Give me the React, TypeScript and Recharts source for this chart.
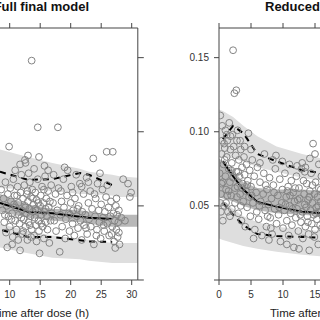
import { ComposedChart, Area, Line, Scatter, XAxis, YAxis } from "recharts";

// observed data: [time after dose (h), concentration]
const fullObs: [number, number][] = [
  [8.6, 0.061], [8.8, 0.047], [9.0, 0.055], [9.1, 0.039], [9.3, 0.066], [9.4, 0.032], [9.5, 0.05], [9.7, 0.058],
  [9.8, 0.043], [10.0, 0.036], [10.1, 0.062], [10.2, 0.053], [10.4, 0.045], [10.5, 0.029], [10.6, 0.068], [10.8, 0.057],
  [10.9, 0.04], [11.0, 0.049], [11.1, 0.034], [11.3, 0.063], [11.4, 0.052], [11.5, 0.044], [11.6, 0.038], [11.7, 0.02],
  [11.8, 0.059], [11.9, 0.071], [12.0, 0.047], [12.1, 0.031], [12.2, 0.055], [12.3, 0.041], [12.4, 0.064], [12.5, 0.05],
  [12.6, 0.036], [12.7, 0.045], [12.8, 0.058], [12.9, 0.027], [13.0, 0.053], [13.1, 0.039], [13.2, 0.048], [13.3, 0.066],
  [13.4, 0.043], [13.5, 0.056], [13.6, 0.034], [13.7, 0.061], [13.8, 0.046], [13.9, 0.051], [14.0, 0.03], [14.1, 0.042],
  [14.2, 0.059], [14.3, 0.037], [14.4, 0.054], [14.5, 0.047], [14.6, 0.068], [14.7, 0.04], [14.8, 0.033], [14.9, 0.018],
  [15.0, 0.05], [15.1, 0.057], [15.2, 0.044], [15.3, 0.063], [15.4, 0.036], [15.5, 0.052], [15.6, 0.028], [15.7, 0.046],
  [15.8, 0.07], [15.9, 0.039], [16.0, 0.055], [16.1, 0.043], [16.2, 0.034], [16.3, 0.06], [16.4, 0.049], [16.5, 0.025],
  [16.6, 0.053], [16.7, 0.04], [16.8, 0.064], [16.9, 0.045], [9.2, 0.044], [10.3, 0.041], [10.7, 0.051], [11.2, 0.057],
  [11.9, 0.042], [12.6, 0.049], [13.3, 0.037], [13.8, 0.055], [14.2, 0.048], [14.7, 0.052], [15.2, 0.038], [15.9, 0.048],
  [12.2, 0.033], [13.5, 0.029], [11.4, 0.027], [14.4, 0.026], [10.4, 0.024], [9.6, 0.022], [12.9, 0.06], [15.6, 0.061],
  [13.1, 0.072], [14.0, 0.075], [11.7, 0.078], [10.9, 0.074], [12.5, 0.081], [9.9, 0.09], [13.6, 0.148], [14.6, 0.103],
  [14.8, 0.083], [13.0, 0.084], [12.6, 0.079], [15.7, 0.077], [16.3, 0.074], [17.2, 0.071],
  [17.1, 0.052], [17.3, 0.04], [17.5, 0.058], [17.6, 0.033], [17.8, 0.047], [17.9, 0.103], [18.0, 0.062], [18.2, 0.019],
  [18.3, 0.044], [18.5, 0.053], [18.6, 0.036], [18.8, 0.068], [18.9, 0.049], [19.1, 0.028], [19.2, 0.041], [19.4, 0.057],
  [19.5, 0.074], [19.7, 0.045], [19.8, 0.033], [20.0, 0.052], [20.1, 0.063], [20.3, 0.038], [20.4, 0.047], [20.6, 0.03],
  [20.7, 0.055], [20.9, 0.071], [21.0, 0.043], [21.2, 0.035], [21.3, 0.05], [21.5, 0.065], [21.6, 0.04], [21.8, 0.027],
  [21.9, 0.046], [22.1, 0.058], [22.2, 0.037], [22.4, 0.044], [22.6, 0.069], [22.7, 0.031], [22.9, 0.052], [23.0, 0.041],
  [23.2, 0.06], [23.3, 0.036], [23.5, 0.048], [23.7, 0.082], [23.8, 0.024], [24.0, 0.043], [24.1, 0.055], [24.3, 0.034],
  [24.4, 0.065], [24.6, 0.047], [24.7, 0.039], [24.9, 0.028], [25.0, 0.051], [25.2, 0.061], [25.3, 0.042], [25.5, 0.033],
  [25.6, 0.046], [25.8, 0.056], [25.9, 0.0865], [26.0, 0.038], [26.2, 0.049], [26.3, 0.03], [26.5, 0.043], [26.6, 0.053],
  [26.8, 0.036], [26.9, 0.0865], [27.0, 0.045], [27.1, 0.026], [27.2, 0.04], [27.3, 0.0216], [27.4, 0.05], [27.5, 0.034],
  [27.6, 0.044], [27.7, 0.029], [27.8, 0.039], [27.9, 0.047], [28.0, 0.024], [28.3, 0.042], [28.6, 0.068], [28.9, 0.04],
  [29.4, 0.065], [29.9, 0.059], [29.7, 0.056], [20.3, 0.059], [22.9, 0.066], [19.0, 0.076], [24.8, 0.072], [21.8, 0.063],
  [26.0, 0.064], [18.4, 0.06], [23.9, 0.058], [19.9, 0.044], [21.1, 0.048], [22.5, 0.035], [25.4, 0.037], [26.7, 0.031],
  [27.5, 0.055], [24.2, 0.03], [27.9, 0.032],
];

const reducedObs: [number, number][] = [
  [0.1, 0.072], [0.2, 0.111], [0.3, 0.058], [0.4, 0.085], [0.5, 0.094], [0.6, 0.066], [0.7, 0.078], [0.8, 0.05],
  [0.9, 0.089], [1.0, 0.101], [1.0, 0.07], [1.1, 0.061], [1.2, 0.083], [1.3, 0.094], [1.4, 0.046], [1.5, 0.075],
  [1.6, 0.106], [1.7, 0.066], [1.8, 0.088], [1.9, 0.057], [2.0, 0.079], [2.1, 0.098], [2.2, 0.155], [2.2, 0.069],
  [2.3, 0.09], [2.4, 0.126], [2.5, 0.052], [2.6, 0.084], [2.7, 0.128], [2.7, 0.073], [2.8, 0.094], [2.9, 0.063],
  [3.0, 0.045], [3.1, 0.081], [3.2, 0.07], [3.3, 0.058], [3.4, 0.088], [3.5, 0.04], [3.6, 0.076], [3.7, 0.065],
  [3.8, 0.053], [3.9, 0.083], [4.0, 0.071], [4.1, 0.036], [4.2, 0.06], [4.3, 0.078], [4.4, 0.049], [4.5, 0.067],
  [4.6, 0.099], [4.7, 0.056], [4.8, 0.074], [4.9, 0.043], [5.0, 0.063], [5.2, 0.081], [5.3, 0.052], [5.5, 0.07],
  [5.6, 0.034], [5.8, 0.059], [5.9, 0.046], [6.0, 0.076], [0.3, 0.046], [0.6, 0.04], [1.1, 0.052], [1.7, 0.043],
  [2.0, 0.048], [0.4, 0.065], [1.5, 0.06], [2.5, 0.062], [3.4, 0.05], [0.9, 0.081], [1.9, 0.074], [3.0, 0.073],
  [0.2, 0.052], [1.3, 0.057], [2.8, 0.056], [0.5, 0.104], [1.2, 0.098], [1.8, 0.097], [0.8, 0.092], [3.3, 0.094],
  [2.9, 0.101], [4.0, 0.09], [5.0, 0.088], [6.4, 0.079], [7.1, 0.085], [8.4, 0.081],
  [6.2, 0.041], [6.4, 0.066], [6.5, 0.053], [6.7, 0.03], [6.9, 0.058], [7.0, 0.072], [7.2, 0.047], [7.4, 0.036],
  [7.5, 0.061], [7.7, 0.051], [7.9, 0.069], [8.0, 0.042], [8.2, 0.055], [8.3, 0.031], [8.5, 0.064], [8.7, 0.048],
  [8.8, 0.075], [9.0, 0.038], [9.2, 0.057], [9.3, 0.044], [9.5, 0.068], [9.6, 0.026], [9.8, 0.052], [9.9, 0.061],
  [10.0, 0.035], [10.2, 0.047], [10.3, 0.072], [10.5, 0.056], [10.6, 0.04], [10.8, 0.063], [10.9, 0.03], [11.0, 0.05],
  [11.2, 0.045], [11.3, 0.067], [11.4, 0.037], [11.6, 0.059], [11.7, 0.022], [11.8, 0.053], [12.0, 0.042], [12.1, 0.07],
  [12.2, 0.048], [12.4, 0.033], [12.5, 0.062], [12.6, 0.055], [12.8, 0.039], [12.9, 0.075], [13.0, 0.046], [13.1, 0.028],
  [13.3, 0.058], [13.4, 0.051], [13.5, 0.036], [13.7, 0.065], [13.8, 0.043], [13.9, 0.054], [14.0, 0.031], [14.2, 0.06],
  [14.3, 0.047], [14.4, 0.072], [14.5, 0.038], [14.6, 0.052], [14.7, 0.092], [14.8, 0.044], [14.9, 0.058], [15.0, 0.085],
  [15.0, 0.034], [15.1, 0.066], [15.2, 0.049], [15.3, 0.041], [15.4, 0.056], [15.5, 0.024], [15.6, 0.062], [15.7, 0.046],
  [15.8, 0.037], [15.9, 0.053], [16.0, 0.07], [16.2, 0.043], [16.4, 0.059], [10.4, 0.051], [11.1, 0.057], [11.9, 0.062],
  [12.7, 0.044], [13.2, 0.067], [13.6, 0.049], [14.1, 0.056], [14.6, 0.064], [15.1, 0.045], [15.5, 0.05], [15.9, 0.061],
  [12.3, 0.054], [13.9, 0.039], [14.9, 0.029], [11.5, 0.048], [10.7, 0.06], [9.4, 0.049], [8.6, 0.059], [7.6, 0.043],
  [6.3, 0.05], [5.1, 0.057], [4.4, 0.064], [3.6, 0.062], [7.3, 0.064], [8.1, 0.035], [16.1, 0.035], [16.3, 0.08],
  [15.6, 0.078], [14.2, 0.082], [13.4, 0.073], [12.2, 0.077], [7.8, 0.027], [5.4, 0.028], [10.6, 0.024], [12.5, 0.021],
  [14.1, 0.02], [9.9, 0.08], [13.0, 0.079], [13.5, 0.076], [11.0, 0.078], [8.9, 0.084],
];

// VPC summary lines and simulated confidence bands, full model
const fullTimes = [0, 1, 3, 5.5, 8.4, 13, 17, 21.5, 23, 26.8, 28, 31];
const fullMedian = [null, 0.08, 0.068, 0.058, 0.052, 0.046, 0.045, 0.0426, 0.042, 0.0412, null, null];
const fullP95 = [null, 0.105, 0.095, 0.082, 0.073, 0.0676, 0.068, 0.0722, 0.071, 0.064, null, null];
const fullP05 = [null, 0.05, 0.042, 0.036, 0.034, 0.029, 0.029, 0.0268, 0.026, 0.0257, null, null];
const fullUpLo = [0.085, 0.08, 0.074, 0.067, 0.062, 0.061, 0.06, 0.058, 0.058, 0.057, 0.056, 0.056];
const fullUpHi = [0.12, 0.113, 0.104, 0.094, 0.088, 0.083, 0.079, 0.075, 0.073, 0.071, 0.07, 0.069];
const fullMidLo = [0.068, 0.064, 0.058, 0.051, 0.046, 0.042, 0.04, 0.039, 0.038, 0.036, 0.036, 0.036];
const fullMidHi = [0.09, 0.085, 0.076, 0.066, 0.058, 0.051, 0.048, 0.047, 0.046, 0.044, 0.044, 0.044];
const fullLowLo = [0.04, 0.036, 0.031, 0.026, 0.022, 0.018, 0.015, 0.014, 0.013, 0.0115, 0.0115, 0.0115];
const fullLowHi = [0.06, 0.056, 0.05, 0.043, 0.038, 0.033, 0.03, 0.028, 0.027, 0.025, 0.025, 0.025];

// reduced model
const redTimes = [0, 0.6, 2.2, 3.8, 6, 9, 13, 16, 20, 24, 27, 30];
const redMedian = [null, 0.08, 0.07, 0.061, 0.0527, 0.0495, 0.046, 0.0452, 0.044, 0.043, 0.042, null];
const redP95 = [null, 0.095, 0.104, 0.099, 0.085, 0.08, 0.074, 0.0722, 0.071, 0.069, 0.066, null];
const redP05 = [null, 0.052, 0.044, 0.037, 0.031, 0.0297, 0.029, 0.0284, 0.027, 0.026, 0.026, null];
const redUpLo = [0.083, 0.083, 0.082, 0.08, 0.076, 0.073, 0.069, 0.067, 0.065, 0.064, 0.063, 0.063];
const redUpHi = [0.115, 0.114, 0.11, 0.104, 0.097, 0.09, 0.085, 0.082, 0.08, 0.078, 0.077, 0.076];
const redMidLo = [0.056, 0.055, 0.053, 0.05, 0.047, 0.045, 0.044, 0.043, 0.042, 0.041, 0.04, 0.04];
const redMidHi = [0.082, 0.08, 0.074, 0.066, 0.062, 0.061, 0.061, 0.06, 0.058, 0.057, 0.056, 0.056];
const redLowLo = [0.028, 0.027, 0.025, 0.023, 0.021, 0.019, 0.017, 0.016, 0.015, 0.014, 0.014, 0.014];
const redLowHi = [0.055, 0.053, 0.048, 0.043, 0.039, 0.036, 0.034, 0.033, 0.032, 0.031, 0.031, 0.031];

const xTicks = [0, 5, 10, 15, 20, 25, 30];
const yTicks = [0, 0.05, 0.1, 0.15];

const font = "'Liberation Sans', Arial, sans-serif";
const axisColor = "#444";
const tickStyle = { fontSize: 10, fill: "#333", fontFamily: font };

const makeRows = (
  times: number[],
  med: (number | null)[],
  p95: (number | null)[],
  p05: (number | null)[],
  upLo: number[],
  upHi: number[],
  midLo: number[],
  midHi: number[],
  lowLo: number[],
  lowHi: number[]
) =>
  times.map((t, i) => ({
    t,
    med: med[i],
    p95: p95[i],
    p05: p05[i],
    up: [upLo[i], upHi[i]],
    mid: [midLo[i], midHi[i]],
    low: [lowLo[i], lowHi[i]],
  }));

const fullRows = makeRows(fullTimes, fullMedian, fullP95, fullP05, fullUpLo, fullUpHi, fullMidLo, fullMidHi, fullLowLo, fullLowHi);
const redRows = makeRows(redTimes, redMedian, redP95, redP05, redUpLo, redUpHi, redMidLo, redMidHi, redLowLo, redLowHi);

const Circle = (p: any) => (
  <circle cx={p.cx} cy={p.cy} r={3.4} fill="none" stroke="#848484" strokeWidth={1} />
);

interface PanelProps {
  left: number;
  yAxisWidth: number;
  plotWidth: number;
  domain: [number, number];
  rows: ReturnType<typeof makeRows>;
  obs: [number, number][];
}

const Panel = ({ left, yAxisWidth, plotWidth, domain, rows, obs }: PanelProps) => {
  const points = obs.map(([t, c]) => ({ t, c }));
  const width = yAxisWidth + plotWidth + 30;
  return (
    <div style={{ position: "absolute", left, top: 0 }}>
      <ComposedChart width={width} height={320} data={rows} margin={{ top: 0, right: 0, bottom: 0, left: 0 }}>
        <XAxis
          xAxisId="b"
          dataKey="t"
          type="number"
          domain={domain}
          ticks={xTicks}
          allowDataOverflow
          height={40}
          tickSize={5}
          tickMargin={5.6}
          interval={0}
          tick={tickStyle}
          stroke={axisColor}
        />
        <XAxis
          xAxisId="t"
          orientation="top"
          dataKey="t"
          type="number"
          domain={domain}
          ticks={xTicks}
          allowDataOverflow
          height={28}
          tickSize={5}
          interval={0}
          tickFormatter={() => ""}
          stroke={axisColor}
        />
        <YAxis
          yAxisId="l"
          type="number"
          domain={[0, 0.17]}
          ticks={yTicks}
          allowDataOverflow
          width={yAxisWidth}
          tickSize={5}
          tickMargin={5}
          interval={0}
          tick={tickStyle}
          tickFormatter={(v: number) => (v === 0 ? "" : v.toFixed(2))}
          stroke={axisColor}
        />
        <YAxis
          yAxisId="r"
          orientation="right"
          type="number"
          domain={[0, 0.17]}
          ticks={yTicks}
          allowDataOverflow
          width={30}
          tickSize={6}
          interval={0}
          tickFormatter={() => ""}
          stroke={axisColor}
        />
        <Area xAxisId="b" yAxisId="l" dataKey="up" stroke="none" fill="#dedede" fillOpacity={1} isAnimationActive={false} />
        <Area xAxisId="b" yAxisId="l" dataKey="low" stroke="none" fill="#dedede" fillOpacity={1} isAnimationActive={false} />
        <Area xAxisId="b" yAxisId="l" dataKey="mid" stroke="none" fill="#b8b8b8" fillOpacity={1} isAnimationActive={false} />
        <Scatter xAxisId="b" yAxisId="l" data={points} dataKey="c" shape={Circle} isAnimationActive={false} />
        <Line xAxisId="b" yAxisId="l" dataKey="med" stroke="#000" strokeWidth={2} dot={false} connectNulls isAnimationActive={false} />
        <Line xAxisId="b" yAxisId="l" dataKey="p95" stroke="#000" strokeWidth={2} strokeDasharray="6 5" dot={false} connectNulls isAnimationActive={false} />
        <Line xAxisId="b" yAxisId="l" dataKey="p05" stroke="#000" strokeWidth={2} strokeDasharray="6 5" dot={false} connectNulls isAnimationActive={false} />
      </ComposedChart>
    </div>
  );
};

export default function App() {
  return (
    <div style={{ position: "fixed", left: 0, top: 0, width: 320, height: 320, overflow: "hidden", background: "#fff" }}>
      <Panel left={-130} yAxisWidth={72.6} plotWidth={195.2} domain={[-1, 31]} rows={fullRows} obs={fullObs} />
      <Panel left={158.7} yAxisWidth={60} plotWidth={192} domain={[0, 30]} rows={redRows} obs={reducedObs} />
      <svg width={320} height={320} style={{ position: "absolute", left: 0, top: 0, pointerEvents: "none" }}>
        <text x={89} y={11} textAnchor="end" fontSize={13} fontWeight="bold" fontFamily={font} fill="#111">
          Full final model
        </text>
        <text x={265} y={11} textAnchor="start" fontSize={13} fontWeight="bold" fontFamily={font} fill="#111">
          Reduced final model
        </text>
        <text x={89} y={316.5} textAnchor="end" fontSize={11.5} fontFamily={font} fill="#222">
          Time after dose (h)
        </text>
        <text x={270} y={316.5} textAnchor="start" fontSize={11.5} fontFamily={font} fill="#222">
          Time after dose (h)
        </text>
      </svg>
    </div>
  );
}
